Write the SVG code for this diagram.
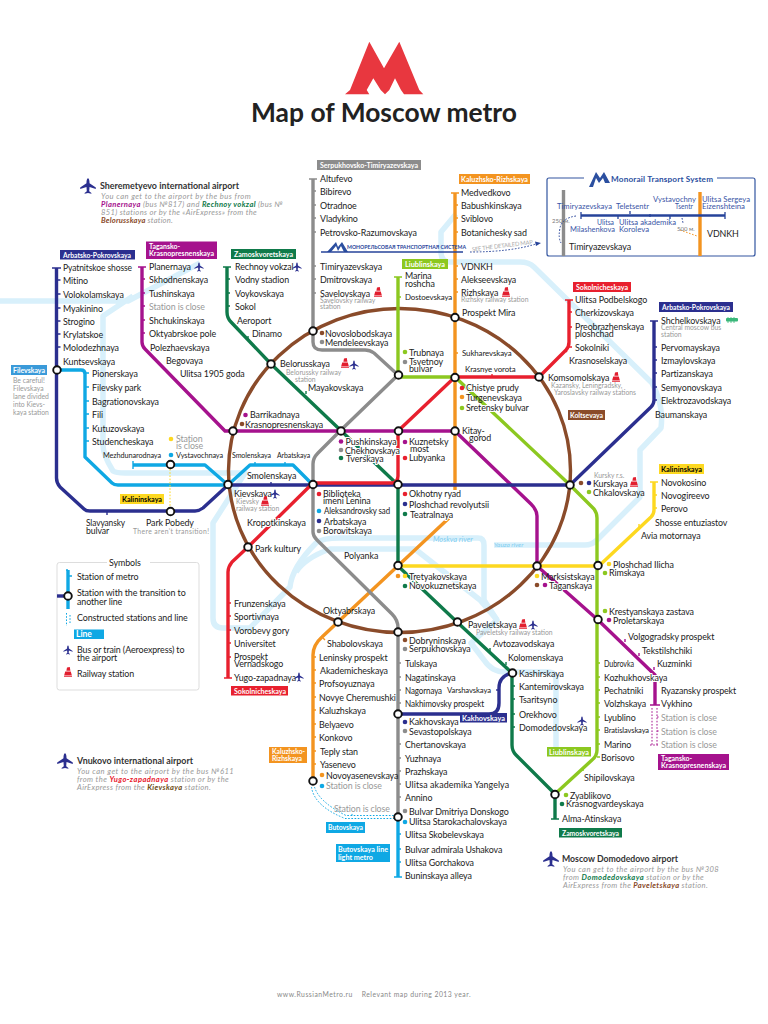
<svg xmlns="http://www.w3.org/2000/svg" width="768" height="1024" viewBox="0 0 768 1024">
<style>
text{font-family:"Lato","Noto Sans","Liberation Sans",sans-serif;dominant-baseline:central}
.s{font-size:8.9px;fill:#222;letter-spacing:-.1px}
.m{font-size:7.9px;fill:#222;letter-spacing:-.1px}
.h{paint-order:stroke;stroke:#fff;stroke-width:2.2px;stroke-linejoin:round}
.c{font-size:8.8px;fill:#999;letter-spacing:-.1px}
.r{font-size:6.8px;fill:#999}
.n{font-size:7.6px;fill:#999;font-style:italic;letter-spacing:.25px}
.a{font-size:9.4px;fill:#333;font-weight:700}
.t{font-size:8.4px;fill:#fff;font-weight:700}
.k{fill:#000}
.mb{font-size:8.4px;fill:#3a55a6}
.l{fill:none;stroke-width:3.4;stroke-linejoin:round}
.tk{fill:none;stroke-width:1.4}
.d{fill:none;stroke-width:1;stroke-dasharray:1.6 1.6}
.rv{fill:none;stroke:#d8f0fb;stroke-width:5.500;stroke-linejoin:round}
</style>
<defs>
<path id="plane" d="M0,-4.6C.7,-4.6.9,-3 .9,-1.6L4.6,.9V1.7L.9,.6.7,3.1 2,4.1V4.6L0,4.1-2,4.6V4.1L-.7,3.1-.9,.6-4.6,1.7V.9L-.9,-1.6C-.9,-3-.7,-4.6 0,-4.6Z" fill="#2b2f8f"/>
<path id="train" d="M-1,-4.4L1.8,-5 2.4,-1.2H-1.6ZM-3.8,3.2L-2.8,-.4H2.8L3.8,3.2ZM-4,3.8H4V4.8H-4Z" fill="#e21f2f"/>
<circle id="st" r="3.800" fill="#fff" stroke="#111" stroke-width="1.900"/>
</defs>
<g id="rivers">
<path class="rv" d="M0,301H128L200,263M133,296L103,316V445Q103,455 113,471Q116,473 125,473H245L213,523V618Q213,628 223,628H250L290,587Q292,567 316,543Q322,538 340,538H478Q484,538 484,545V600L497,620L471,643L484,660Q492,672 505,672H548Q556,672 556,680V750"/>
<path class="rv" d="M296,572Q305,558 330,549H415L480,600L497,620"/>
<path class="rv" d="M494,545H585Q592,545 597,540L640,497V450L661,428Q664,405 652,383L534,267Q529,262 520,262H450Q441,262 441,252V232L456,214"/>
</g>
<g id="connectors">
<ellipse id="line-koltsevaya" cx="399.5" cy="470.5" rx="171" ry="162" fill="none" stroke="#8a4b2a" stroke-width="3.4"/>
<path id="line-filevskaya" class="l" stroke="#0fa8e4" d="M57,370H81Q85,370 85,374V457L112,483Q114,485 118,485H228M133,465H205L228,485L250,465H293L313,485"/>
<path class="tk" stroke="#0fa8e4" d="M133,461v8M85,373h4M85,387h4M85,401h4M85,414h4M85,428h4M85,441h4M255,465v-3M285,465v-3"/>
<path id="line-lublinskaya" class="l" stroke="#8cc820" d="M398,277V375Q398,377 400,377H455L570,485L594,509Q597,513 597,518V750Q597,756 592,760L555,794"/>
<path class="tk" stroke="#8cc820" d="M394,277h8M398,297h3M597,663h3M597,677h3M597,690h3M597,703h3M597,717h3M597,730h3M597,744h3M597,757h3M583,768v3"/>
<path id="line-kaluzhsko" class="l" stroke="#f39420" d="M455,193V490M449,518L338,622L322,637Q313,645 313,655V781"/>
<path class="tk" stroke="#f39420" d="M451,193h8M455,205h3M455,218h3M455,232h3M455,266h3M455,279h3M455,292h3M455,353h3M313,657h3M313,670h3M313,683h3M313,697h3M313,710h3M313,724h3M313,737h3M313,751h3M313,764h3M323,638l2,2"/>
<path id="line-serpukhovskaya" class="l" stroke="#8c8c8c" d="M313,179V342Q313,350 322,350H365Q370,350 374,353L398,375L340,431L318,453Q313,458 313,464V532Q313,536 317,540L392,614Q398,620 398,628V817"/>
<path class="tk" stroke="#8c8c8c" d="M309,179h8M313,191h3M313,205h3M313,218h3M313,232h3M313,266h3M313,279h3M313,293h3M398,663h3M398,677h3M398,690h3M398,703h3M398,744h3M398,758h3M398,771h3M398,784h3M398,797h3M342,531v3"/>
<path id="line-butovskaya" class="l" stroke="#0fa8e4" d="M398,817V877"/>
<path class="tk" stroke="#0fa8e4" d="M394,877h8M398,834h3M398,849h3M398,862h3"/>
<path id="line-butovskaya-construct" class="d" stroke="#0fa8e4" d="M311.5,787Q314,806 345,818.5H396M314.5,787Q319,802 346,815.5H396M352,815.5v-3"/>
<path id="line-zamoskvoretskaya" class="l" stroke="#0f7a4a" d="M227,267V312Q227,318 231,322L271,364L398,485V566L457,622L512,673V745Q512,751 516,755L555,794V819"/>
<path class="tk" stroke="#0f7a4a" d="M223,267h8M227,279h3M227,293h3M227,306h3M248,339v-3M306,394v-3M551,819h8M512,686h3M512,699h3M512,714h3M512,727h3M490,651v-3M506,665v-3"/>
<path id="line-tagansko" class="l" stroke="#a5128d" d="M142,267V342Q142,346 145,349L225,431H450Q455,431 458,434L531,504Q537,510 537,516V566L598,620L655,675V705"/>
<path class="tk" stroke="#a5128d" d="M138,267h8M142,279h3M142,293h3M142,320h3M142,333h3M142,306h3M162,368v-3M176,382v-3M650,705h10M625,642v-3M639,656v-3M654,670v-3"/>
<path id="line-tagansko-construct" class="d" stroke="#a5128d" d="M652,708V745M657,708V745M657,717h3M657,731h3M650,745h9"/>
<path id="line-kalininskaya" class="l" stroke="#fdd820" d="M654,482V510Q654,514 651,517L601,564L598,566H398"/>
<path class="tk" stroke="#fdd820" d="M650,482h8M654,495h3M654,508h3M639,527v-3"/>
<path id="line-arbatsko" class="l" stroke="#2b2f8f" d="M56.5,268V478Q56.5,483 60,487L84,509Q86,511 90,511H195Q199,511 203,508L228,485H570L651,407Q654,404 654,400V321"/>
<path class="tk" stroke="#2b2f8f" d="M52,268h9M56.5,280h4M56.5,294h4M56.5,308h4M56.5,321h4M56.5,334h4M56.5,347h4M107,511v4M650,321h8M654,347h3M654,360h3M654,373h3M654,387h3M654,400h3M271,485v-3"/>
<path id="line-kakhovskaya" class="l" stroke="#2b2f8f" d="M398,714H489Q499,714 499,703V688Q499,676 512,673"/>
<path class="tk" stroke="#2b2f8f" d="M499,690h-3"/>
<path id="line-sokolnicheskaya" class="l" stroke="#e8202e" d="M569,300V342Q569,347 566,350L539,377H455L398,431V476Q398,483 391,483H313L248,547L232,562Q228,567 228,572V678"/>
<path class="tk" stroke="#e8202e" d="M565,300h8M569,312h3M569,327h3M569,347h3M565,350l2,2M224,678h8M228,603h3M228,616h3M228,630h3M228,643h3M228,657h3M492,377v-3"/>
<path id="dotted-kalininskaya" class="d" stroke="#fdd820" d="M170,469V507"/>
</g>
<g id="logo"><polygon fill="#e8373f" points="345,94.3 350,90 369.3,41.7 384,68.3 399.3,41.7 419.3,90 423.3,94.3 404,94.3 401,90 395,78.3 389.3,90 385,94.3 380.7,90 373.3,78.3 366.7,90 369.3,94.3"/></g>
<text id="title" x="251" y="111" font-size="27" font-weight="700" fill="#222" textLength="266" lengthAdjust="spacingAndGlyphs">Map of Moscow metro</text>
<g id="tags">
<g id="tag-serp"><rect x="317" y="160" width="104" height="10" fill="#8c8c8c"/><text class="t" x="320" y="165" textLength="98" lengthAdjust="spacingAndGlyphs">Serpukhovsko-Timiryazevskaya</text></g>
<g id="tag-kal"><rect x="459" y="174" width="71" height="10" fill="#f39420"/><text class="t" x="461" y="179" textLength="67" lengthAdjust="spacingAndGlyphs">Kaluzhsko-Rizhskaya</text></g>
<g id="tag-arb1"><rect x="60" y="250" width="75" height="9.5" fill="#2b2f8f"/><text class="t" x="63" y="254.8" textLength="68" lengthAdjust="spacingAndGlyphs">Arbatsko-Pokrovskaya</text></g>
<g id="tag-tag1"><rect x="146" y="241.500" width="71" height="17.500" fill="#a5128d"/><text class="t" x="149" y="246" textLength="31" lengthAdjust="spacingAndGlyphs">Tagansko-</text><text class="t" x="149" y="253" textLength="65" lengthAdjust="spacingAndGlyphs">Krasnopresnenskaya</text></g>
<g id="tag-zam1"><rect x="231" y="249" width="65" height="10" fill="#0f7a4a"/><text class="t" x="234" y="254" textLength="59" lengthAdjust="spacingAndGlyphs">Zamoskvoretskaya</text></g>
<g id="tag-lub1"><rect x="402" y="259" width="46" height="10" fill="#8cc820"/><text class="t" x="405" y="264" textLength="40" lengthAdjust="spacingAndGlyphs">Liublinskaya</text></g>
<g id="tag-sok1"><rect x="573" y="282" width="58" height="10" fill="#e8202e"/><text class="t" x="576" y="287" textLength="52" lengthAdjust="spacingAndGlyphs">Sokolnicheskaya</text></g>
<g id="tag-arb2"><rect x="659" y="302" width="74" height="10" fill="#2b2f8f"/><text class="t" x="662" y="307" textLength="68" lengthAdjust="spacingAndGlyphs">Arbatsko-Pokrovskaya</text></g>
<g id="tag-fil"><rect x="11" y="365" width="36" height="10" fill="#3a9ad9"/><text class="t" x="13" y="370" textLength="32" lengthAdjust="spacingAndGlyphs">Filevskaya</text></g>
<g id="tag-kolts"><rect x="568" y="410" width="37" height="10" fill="#8a4b2a"/><text class="t" x="570" y="415" textLength="33" lengthAdjust="spacingAndGlyphs">Koltsevaya</text></g>
<g id="tag-kali2"><rect x="659" y="464" width="45" height="10" fill="#fdd820"/><text class="t k" x="661" y="469" textLength="41" lengthAdjust="spacingAndGlyphs">Kalininskaya</text></g>
<g id="tag-kali1"><rect x="120" y="494" width="44" height="10" fill="#fdd820"/><text class="t k" x="122" y="499" textLength="40" lengthAdjust="spacingAndGlyphs">Kalininskaya</text></g>
<g id="tag-sok2"><rect x="231" y="686" width="57" height="9.500" fill="#e8202e"/><text class="t" x="234" y="690.500" textLength="52" lengthAdjust="spacingAndGlyphs">Sokolnicheskaya</text></g>
<g id="tag-kakh"><rect x="460" y="713" width="47" height="9.500" fill="#2b2f8f"/><text class="t" x="462" y="717.800" textLength="43" lengthAdjust="spacingAndGlyphs">Kakhovskaya</text></g>
<g id="tag-lub2"><rect x="547" y="747" width="44" height="9.500" fill="#8cc820"/><text class="t" x="549" y="751.500" textLength="40" lengthAdjust="spacingAndGlyphs">Liublinskaya</text></g>
<g id="tag-tag2"><rect x="658" y="754" width="71" height="16" fill="#a5128d"/><text class="t" x="661" y="758" textLength="31" lengthAdjust="spacingAndGlyphs">Tagansko-</text><text class="t" x="661" y="765" textLength="65" lengthAdjust="spacingAndGlyphs">Krasnopresnenskaya</text></g>
<g id="tag-kal2"><rect x="269" y="747" width="38" height="16" fill="#f39420"/><text class="t" x="272" y="751" textLength="33" lengthAdjust="spacingAndGlyphs">Kaluzhsko-</text><text class="t" x="272" y="758" textLength="30" lengthAdjust="spacingAndGlyphs">Rizhskaya</text></g>
<g id="tag-but"><rect x="326" y="822" width="39" height="11" fill="#0fa8e4"/><text class="t" x="328" y="827" textLength="35" lengthAdjust="spacingAndGlyphs">Butovskaya</text></g>
<g id="tag-butl"><rect x="336" y="844" width="54" height="18" fill="#0fa8e4"/><text class="t" x="338" y="849" textLength="50" lengthAdjust="spacingAndGlyphs">Butovskaya line</text><text class="t" x="338" y="856.500" textLength="35" lengthAdjust="spacingAndGlyphs">light metro</text></g>
<g id="tag-zam2"><rect x="559" y="828" width="63" height="9.500" fill="#0f7a4a"/><text class="t" x="562" y="832.500" textLength="57" lengthAdjust="spacingAndGlyphs">Zamoskvoretskaya</text></g>
</g>
<g id="labels-arbatsko">
<text class="s" x="63" y="267" textLength="69" lengthAdjust="spacingAndGlyphs">Pyatnitskoe shosse</text><text class="s" x="63" y="280">Mitino</text><text class="s" x="63" y="294">Volokolamskaya</text><text class="s" x="63" y="308">Myakinino</text><text class="s" x="63" y="321">Strogino</text><text class="s" x="63" y="334">Krylatskoe</text><text class="s" x="63" y="347">Molodezhnaya</text><text class="s" x="63" y="361">Kuntsevskaya</text>
<text class="s" x="86" y="522" textLength="39" lengthAdjust="spacingAndGlyphs">Slavyansky</text><text class="s" x="86" y="530" textLength="23" lengthAdjust="spacingAndGlyphs">bulvar</text><text class="s" x="146" y="522">Park Pobedy</text><text class="r" x="133" y="531" textLength="76" lengthAdjust="spacing">There aren't transition!</text>
<text class="s" x="661" y="320">Shchelkovskaya</text><text class="r" x="661" y="327">Central moscow bus</text><text class="r" x="661" y="334">station</text><text class="s" x="661" y="347">Pervomayskaya</text><text class="s" x="661" y="360">Izmaylovskaya</text><text class="s" x="661" y="373">Partizanskaya</text><text class="s" x="661" y="387">Semyonovskaya</text><text class="s" x="661" y="400">Elektrozavodskaya</text><text class="s" x="655" y="414">Baumanskaya</text>
</g>
<g id="labels-filevskaya">
<text class="r" x="13" y="380">Be careful!</text><text class="r" x="13" y="388">Filevskaya</text><text class="r" x="13" y="396">lane divided</text><text class="r" x="13" y="404">into Kievs-</text><text class="r" x="13" y="412">kaya station</text>
<text class="s" x="92" y="373">Pionerskaya</text><text class="s" x="92" y="387">Filevsky park</text><text class="s" x="92" y="401">Bagrationovskaya</text><text class="s" x="92" y="414">Fili</text><text class="s" x="92" y="428">Kutuzovskaya</text><text class="s" x="92" y="441">Studencheskaya</text>
<text class="c" x="176" y="438">Station</text><text class="c" x="176" y="445">is close</text><text class="m" x="103" y="455" textLength="58" lengthAdjust="spacingAndGlyphs">Mezhdunarodnaya</text><text class="m" x="176" y="455" textLength="47" lengthAdjust="spacingAndGlyphs">Vystavochnaya</text><text class="m" x="232" y="455" textLength="39" lengthAdjust="spacingAndGlyphs">Smolenskaya</text><text class="m" x="277" y="455" textLength="33" lengthAdjust="spacingAndGlyphs">Arbatskaya</text><text class="s" x="247" y="475">Smolenskaya</text>
</g>
<g id="labels-tagansko">
<text class="s" x="149" y="266">Planernaya</text><text class="s" x="149" y="279">Skhodnenskaya</text><text class="s" x="149" y="293">Tushinskaya</text><text class="c" x="149" y="306">Station is close</text><text class="s" x="149" y="320">Shchukinskaya</text><text class="s" x="149" y="333">Oktyabrskoe pole</text><text class="s" x="150" y="347">Polezhaevskaya</text><text class="s" x="166" y="360">Begovaya</text><text class="s" x="180" y="373">Ulitsa 1905 goda</text>
<text class="s" x="628" y="636">Volgogradsky prospekt</text><text class="s" x="642" y="650">Tekstilshchiki</text><text class="s" x="657" y="663">Kuzminki</text><text class="s" x="661" y="690">Ryazansky prospekt</text><text class="s" x="661" y="703">Vykhino</text><text class="c" x="661" y="717">Station is close</text><text class="c" x="661" y="731">Station is close</text><text class="c" x="661" y="744">Station is close</text>
</g>
<g id="labels-zamoskvoretskaya">
<text class="s" x="235" y="266">Rechnoy vokzal</text><text class="s" x="235" y="279">Vodny stadion</text><text class="s" x="235" y="293">Voykovskaya</text><text class="s" x="235" y="306">Sokol</text><text class="s" x="237" y="320">Aeroport</text><text class="s" x="252" y="333">Dinamo</text><text class="s" x="280" y="363">Belorusskaya</text><text class="r" x="286" y="372">Belorussky railway</text><text class="r" x="295" y="379">station</text><text class="s" x="308" y="387">Mayakovskaya</text>
<text class="s" x="493" y="643">Avtozavodskaya</text><text class="s" x="508" y="657">Kolomenskaya</text><text class="s" x="519" y="673">Kashirskaya</text><text class="s" x="519" y="686">Kantemirovskaya</text><text class="s" x="519" y="699">Tsaritsyno</text><text class="s" x="519" y="714">Orekhovo</text><text class="s" x="519" y="727">Domodedovskaya</text>
<text class="s" x="562" y="818">Alma-Atinskaya</text>
</g>
<g id="labels-serpukhovskaya">
<text class="s" x="320" y="178">Altufevo</text><text class="s" x="320" y="191">Bibirevo</text><text class="s" x="320" y="205">Otradnoe</text><text class="s" x="320" y="218">Vladykino</text><text class="s" x="320" y="232">Petrovsko-Razumovskaya</text><text class="s" x="320" y="266">Timiryazevskaya</text><text class="s" x="320" y="279">Dmitrovskaya</text><text class="s" x="320" y="293">Savelovskaya</text><text class="r" x="320" y="300">Savelovsky railway</text><text class="r" x="320" y="306">station</text>
<text class="s" x="344" y="555">Polyanka</text><text class="s" x="405" y="663">Tulskaya</text><text class="s" x="405" y="677">Nagatinskaya</text><text class="s" x="405" y="690" textLength="37" lengthAdjust="spacingAndGlyphs">Nagornaya</text><text class="m" x="447" y="690" textLength="44" lengthAdjust="spacingAndGlyphs">Varshavskaya</text><text class="s" x="405" y="703" textLength="79" lengthAdjust="spacingAndGlyphs">Nakhimovsky prospekt</text><text class="s" x="405" y="744">Chertanovskaya</text><text class="s" x="405" y="758">Yuzhnaya</text><text class="s" x="405" y="771">Prazhskaya</text><text class="s" x="405" y="784" textLength="104" lengthAdjust="spacing">Ulitsa akademika Yangelya</text><text class="s" x="405" y="797">Annino</text>
<text class="c" x="334" y="808">Station is close</text><text class="s" x="405" y="834">Ulitsa Skobelevskaya</text><text class="s" x="405" y="849">Bulvar admirala Ushakova</text><text class="s" x="405" y="862">Ulitsa Gorchakova</text><text class="s" x="405" y="875">Buninskaya alleya</text>
</g>
<g id="labels-kaluzhsko">
<text class="s" x="461" y="192">Medvedkovo</text><text class="s" x="461" y="205">Babushkinskaya</text><text class="s" x="461" y="218">Sviblovo</text><text class="s" x="461" y="232">Botanichesky sad</text><text class="s" x="461" y="266">VDNKH</text><text class="s" x="461" y="279">Alekseevskaya</text><text class="s" x="461" y="292">Rizhskaya</text><text class="r" x="461" y="299">Rizhsky railway station</text><text class="s" x="462" y="312">Prospekt Mira</text><text class="m" x="462" y="353">Sukharevskaya</text>
<text class="s" x="327" y="643">Shabolovskaya</text><text class="s" x="319" y="657">Leninsky prospekt</text><text class="s" x="320" y="670">Akademicheskaya</text><text class="s" x="319" y="683">Profsoyuznaya</text><text class="s" x="319" y="697">Novye Cheremushki</text><text class="s" x="319" y="710">Kaluzhskaya</text><text class="s" x="319" y="724">Belyaevo</text><text class="s" x="319" y="737">Konkovo</text><text class="s" x="320" y="751">Teply stan</text><text class="s" x="320" y="764">Yasenevo</text>
<text class="s" x="323" y="610">Oktyabrskaya</text><text class="s" x="326" y="775">Novoyasenevskaya</text><text class="c" x="326" y="785">Station is close</text>
</g>
<g id="labels-sokolnicheskaya">
<text class="s" x="575" y="299">Ulitsa Podbelskogo</text><text class="s" x="575" y="312">Cherkizovskaya</text><text class="s" x="575" y="326.500">Preobrazhenskaya</text><text class="s" x="575" y="333.500">ploshchad</text><text class="s" x="575" y="347">Sokolniki</text><text class="s" x="569" y="360">Krasnoselskaya</text><text class="s" x="548" y="377">Komsomolskaya</text><text class="r" x="551" y="385">Kazansky, Leningradsky,</text><text class="r" x="554" y="392">Yaroslavsky railway stations</text><text class="m" x="465" y="369">Krasnye vorota</text>
<text class="s h" x="247" y="522">Kropotkinskaya</text><text class="s" x="255" y="548">Park kultury</text><text class="s" x="234" y="603">Frunzenskaya</text><text class="s" x="234" y="616">Sportivnaya</text><text class="s" x="234" y="630">Vorobevy gory</text><text class="s" x="234" y="643">Universitet</text><text class="s" x="234" y="656">Prospekt</text><text class="s" x="234" y="663.500">Vernadskogo</text><text class="s" x="234" y="677">Yugo-zapadnaya</text>
</g>
<g id="labels-lublinskaya">
<text class="s" x="405" y="275.500">Marina</text><text class="s" x="405" y="283">roshcha</text><text class="m" x="405" y="297">Dostoevskaya</text><text class="s" x="604" y="663" textLength="30" lengthAdjust="spacingAndGlyphs">Dubrovka</text><text class="s h" x="604" y="677">Kozhukhovskaya</text><text class="s" x="604" y="690">Pechatniki</text><text class="s" x="604" y="703">Volzhskaya</text><text class="s" x="604" y="717">Lyublino</text><text class="m" x="604" y="730" textLength="45" lengthAdjust="spacingAndGlyphs">Bratislavskaya</text><text class="s" x="604" y="744">Marino</text><text class="s" x="601" y="757">Borisovo</text><text class="s" x="584" y="777">Shipilovskaya</text>
</g>
<g id="labels-kalininskaya">
<text class="s" x="661" y="482">Novokosino</text><text class="s" x="661" y="495">Novogireevo</text><text class="s" x="661" y="508">Perovo</text><text class="s" x="655" y="522">Shosse entuziastov</text><text class="s" x="641" y="535">Avia motornaya</text>
</g>
<g id="labels-center">
<text class="s" x="250" y="414">Barrikadnaya</text><text class="s" x="245" y="424">Krasnopresnenskaya</text>
<text class="s" x="325" y="333">Novoslobodskaya</text><text class="s" x="325" y="342">Mendeleevskaya</text>
<text class="s" x="409" y="352">Trubnaya</text><text class="s" x="409" y="361">Tsvetnoy</text><text class="s" x="409" y="368.500">bulvar</text>
<text class="s h" x="466" y="387">Chistye prudy</text><text class="s" x="466" y="397">Turgenevskaya</text><text class="s h" x="466" y="407">Sretensky bulvar</text>
<text class="s h" x="345.500" y="441">Pushkinskaya</text><text class="s h" x="345" y="450">Chekhovskaya</text><text class="s h" x="346" y="458">Tverskaya</text>
<text class="s" x="409" y="441">Kuznetsky</text><text class="s" x="410" y="448">most</text><text class="s" x="409" y="457">Lubyanka</text><text class="s" x="462" y="430">Kitay-</text><text class="s" x="469" y="437">gorod</text>
<text class="s" x="234" y="493">Kievskaya</text><text class="r" x="236" y="501">Kievsky</text><text class="r" x="236" y="508">railway station</text>
<text class="s" x="323" y="493">Biblioteka</text><text class="s" x="323" y="500.500">imeni Lenina</text><text class="s" x="324" y="510.500" textLength="66" lengthAdjust="spacingAndGlyphs">Aleksandrovsky sad</text><text class="s" x="324" y="521">Arbatskaya</text><text class="s" x="323" y="530.500">Borovitskaya</text>
<text class="s h" x="409" y="493">Okhotny ryad</text><text class="s" x="409" y="504">Ploshchad revolyutsii</text><text class="s h" x="410" y="514">Teatralnaya</text>
<text class="s h" x="409" y="576">Tretyakovskaya</text><text class="s h" x="409" y="585">Novokuznetskaya</text><text class="s" x="541" y="576">Marksistskaya</text><text class="s h" x="549" y="585">Taganskaya</text>
<text class="s" x="613" y="564">Ploshchad Ilicha</text><text class="s" x="609" y="572">Rimskaya</text><text class="s" x="609" y="611">Krestyanskaya zastava</text><text class="s" x="613" y="620">Proletarskaya</text>
<text class="r" x="594" y="475">Kursky r.s.</text><text class="s" x="593" y="483">Kurskaya</text><text class="s" x="593" y="492">Chkalovskaya</text>
<text class="s" x="468" y="624">Paveletskaya</text><text class="r" x="476" y="632">Paveletsky railway station</text>
<text class="s" x="409" y="640">Dobryninskaya</text><text class="s" x="409" y="648.500">Serpukhovskaya</text><text class="s" x="409" y="721">Kakhovskaya</text><text class="s" x="409" y="731">Sevastopolskaya</text><text class="s" x="409" y="811">Bulvar Dmitriya Donskogo</text><text class="s" x="409" y="821">Ulitsa Starokachalovskaya</text>
<text class="s" x="570" y="795">Zyablikovo</text><text class="s" x="566" y="803.500">Krasnogvardeyskaya</text>
<text x="433" y="539" style="font-size:7.500px;font-style:italic;fill:#7fcdf0">Moskva river</text><text x="494" y="544" style="font-size:6.500px;font-style:italic;fill:#7fcdf0">Yauza river</text>
</g>
<g id="dots">
<circle cx="245.500" cy="415" r="2.300" fill="#a5128d"/><circle cx="242" cy="424" r="2.300" fill="#8a4b2a"/><circle cx="322" cy="333" r="2.300" fill="#8a4b2a"/><circle cx="322" cy="342" r="2.300" fill="#8c8c8c"/><circle cx="405" cy="352" r="2.300" fill="#8cc820"/><circle cx="405" cy="362" r="2.300" fill="#8c8c8c"/><circle cx="462" cy="388" r="2.300" fill="#e8202e"/><circle cx="462" cy="397" r="2.300" fill="#f39420"/><circle cx="462" cy="408" r="2.300" fill="#8cc820"/><circle cx="341" cy="441.500" r="2.300" fill="#a5128d"/><circle cx="341" cy="450" r="2.300" fill="#8c8c8c"/><circle cx="341" cy="458" r="2.300" fill="#0f7a4a"/><circle cx="405" cy="442" r="2.300" fill="#a5128d"/><circle cx="405" cy="458" r="2.300" fill="#e8202e"/><circle cx="319" cy="494" r="2.300" fill="#e8202e"/><circle cx="319" cy="511" r="2.300" fill="#0fa8e4"/><circle cx="319" cy="521" r="2.300" fill="#2b2f8f"/><circle cx="319" cy="531" r="2.300" fill="#8c8c8c"/><circle cx="405" cy="494" r="2.300" fill="#e8202e"/><circle cx="405" cy="504" r="2.300" fill="#2b2f8f"/><circle cx="405" cy="514" r="2.300" fill="#0f7a4a"/><circle cx="398" cy="576" r="2.300" fill="#f39420"/><circle cx="405" cy="576" r="2.300" fill="#fdd820"/><circle cx="405" cy="586" r="2.300" fill="#0f7a4a"/><circle cx="537" cy="576" r="2.300" fill="#fdd820"/><circle cx="537" cy="585" r="2.300" fill="#8a4b2a"/><circle cx="545" cy="585" r="2.300" fill="#a5128d"/><circle cx="609" cy="564" r="2.300" fill="#fdd820"/><circle cx="605" cy="573" r="2.300" fill="#8cc820"/><circle cx="605" cy="611" r="2.300" fill="#8cc820"/><circle cx="609" cy="620" r="2.300" fill="#a5128d"/><circle cx="581" cy="483" r="2.300" fill="#8a4b2a"/><circle cx="589" cy="483" r="2.300" fill="#2b2f8f"/><circle cx="589" cy="492" r="2.300" fill="#8cc820"/><circle cx="405" cy="640" r="2.300" fill="#8a4b2a"/><circle cx="405" cy="649" r="2.300" fill="#8c8c8c"/><circle cx="405" cy="722" r="2.300" fill="#2b2f8f"/><circle cx="405" cy="731" r="2.300" fill="#8c8c8c"/><circle cx="405" cy="811" r="2.300" fill="#8c8c8c"/><circle cx="405" cy="822" r="2.300" fill="#0fa8e4"/><circle cx="322" cy="775" r="2.300" fill="#f39420"/><circle cx="322" cy="786" r="2.300" fill="#0fa8e4"/><circle cx="566" cy="795" r="2.300" fill="#8cc820"/><circle cx="562" cy="804" r="2.300" fill="#0f7a4a"/><circle cx="171" cy="439" r="2.300" fill="#fdd820"/><circle cx="171" cy="455" r="2.300" fill="#0fa8e4"/>
</g>
<g id="stations">
<g id="n-kuntsevskaya"><use href="#st" x="57" y="370"/></g><g id="n-vystavochnaya"><use href="#st" x="170.500" y="464.500"/></g><g id="n-park-pobedy"><use href="#st" x="170.500" y="511.500"/></g><g id="n-kievskaya"><use href="#st" x="228" y="484.500"/></g><g id="n-biblioteka"><use href="#st" x="313" y="484.500"/></g><g id="n-okhotny"><use href="#st" x="398" y="484.500"/></g><g id="n-kurskaya"><use href="#st" x="570" y="485"/></g><g id="n-park-kultury"><use href="#st" x="248" y="547"/></g><g id="n-krasnopresnenskaya"><use href="#st" x="233" y="431"/></g><g id="n-belorusskaya"><use href="#st" x="271" y="364"/></g><g id="n-novoslobodskaya"><use href="#st" x="313" y="331"/></g><g id="n-tsvetnoy"><use href="#st" x="398.500" y="375"/></g><g id="n-prospekt-mira"><use href="#st" x="455" y="317.500"/></g><g id="n-komsomolskaya"><use href="#st" x="539" y="377"/></g><g id="n-krasnye"><use href="#st" x="455" y="377.500"/></g><g id="n-pushkinskaya"><use href="#st" x="341" y="431"/></g><g id="n-kuznetsky"><use href="#st" x="398.500" y="431"/></g><g id="n-kitay"><use href="#st" x="455" y="431"/></g><g id="n-tretyakovskaya"><use href="#st" x="398" y="565.500"/></g><g id="n-taganskaya"><use href="#st" x="537" y="566"/></g><g id="n-ilicha"><use href="#st" x="598" y="565.500"/></g><g id="n-proletarskaya"><use href="#st" x="598" y="619.500"/></g><g id="n-paveletskaya"><use href="#st" x="457.500" y="622"/></g><g id="n-oktyabrskaya"><use href="#st" x="338" y="622"/></g><g id="n-dobryninskaya"><use href="#st" x="398" y="632"/></g><g id="n-kashirskaya"><use href="#st" x="512.500" y="673"/></g><g id="n-kakhovskaya"><use href="#st" x="398" y="714"/></g><g id="n-donskogo"><use href="#st" x="398" y="817"/></g><g id="n-novoyasenevskaya"><use href="#st" x="313" y="781"/></g><g id="n-zyablikovo"><use href="#st" x="555" y="794.500"/></g>
</g>
<g id="icons">
<use href="#plane" x="199" y="267"/><use href="#plane" x="297" y="267"/><use href="#plane" x="354" y="365"/><use href="#plane" x="275" y="494"/><use href="#plane" x="299" y="677"/><use href="#plane" x="533" y="625"/><use href="#plane" x="582" y="721"/>
<use href="#train" x="345" y="363"/><use href="#train" x="378" y="292"/><use href="#train" x="506" y="292"/><use href="#train" x="616" y="377"/><use href="#train" x="634" y="482"/><use href="#train" x="265" y="501"/><use href="#train" x="523" y="624"/>
<g id="bus"><rect x="726" y="318" width="12" height="3.500" rx="1" fill="#3ab77a"/><path d="M728,317v6M731,317v6M734,317v6" stroke="#3ab77a" stroke-width=".8"/></g>
</g>
<g id="airports">
<g id="airport-sheremetyevo"><use href="#plane" transform="translate(88,186) scale(1.700)"/><text class="a" x="100" y="185" textLength="139" lengthAdjust="spacingAndGlyphs">Sheremetyevo international airport</text>
<text class="n" x="101" y="196" textLength="150" lengthAdjust="spacing">You can get to the airport by the bus from</text>
<text class="n" x="101" y="204" textLength="182" lengthAdjust="spacing"><tspan font-weight="700" fill="#a5128d">Planernaya</tspan> (bus №817) and <tspan font-weight="700" fill="#0f7a4a">Rechnoy vokzal</tspan> (bus №</text>
<text class="n" x="101" y="212" textLength="156" lengthAdjust="spacing">851) stations or by the «AirExpress» from the</text>
<text class="n" x="101" y="220" textLength="72" lengthAdjust="spacing"><tspan font-weight="700" fill="#8a4b2a">Belorusskaya</tspan> station.</text></g>
<g id="airport-vnukovo"><use href="#plane" transform="translate(65,761) scale(1.700)"/><text class="a" x="77" y="760" textLength="116" lengthAdjust="spacingAndGlyphs">Vnukovo international airport</text>
<text class="n" x="77" y="771" textLength="157" lengthAdjust="spacing">You can get to the airport by the bus №611</text>
<text class="n" x="77" y="779" textLength="152" lengthAdjust="spacing">from the <tspan font-weight="700" fill="#e8202e">Yugo-zapadnaya</tspan> station or by the</text>
<text class="n" x="77" y="787" textLength="134" lengthAdjust="spacing">AirExpress from the <tspan font-weight="700" fill="#6b4a12">Kievskaya</tspan> station.</text></g>
<g id="airport-domodedovo"><use href="#plane" transform="translate(551,859) scale(1.700)"/><text class="a" x="562" y="858" textLength="116" lengthAdjust="spacingAndGlyphs">Moscow Domodedovo airport</text>
<text class="n" x="563" y="869" textLength="156" lengthAdjust="spacing">You can get to the airport by the bus №308</text>
<text class="n" x="563" y="877" textLength="141" lengthAdjust="spacing">from <tspan font-weight="700" fill="#0f7a4a">Domodedovskaya</tspan> station or by the</text>
<text class="n" x="563" y="885" textLength="145" lengthAdjust="spacing">AirExpress from the <tspan font-weight="700" fill="#8a4b2a">Paveletskaya</tspan> station.</text></g>
</g>
<g id="legend">
<rect x="57" y="562.500" width="142" height="127.500" rx="2.500" fill="#fff" stroke="#ddd" stroke-width="1"/>
<rect x="107" y="558" width="43" height="9" fill="#fff"/><text class="s" x="109" y="562.500">Symbols</text>
<path class="l" stroke="#0fa8e4" d="M68,570V609"/><path class="l" stroke="#2b2f8f" d="M57,596H68"/><path class="tk" stroke="#0fa8e4" d="M68,576h4M66,570h2"/>
<use href="#st" x="68" y="596"/>
<path class="d" stroke="#0fa8e4" d="M66.500,613V626M70,615V623"/>
<text class="s" x="77" y="576">Station of metro</text><text class="s" x="77" y="592">Station with the transition to</text><text class="s" x="77" y="601">another line</text><text class="s" x="77" y="617">Constructed stations and line</text>
<rect x="74" y="629.500" width="30" height="9.500" fill="#0fa8e4"/><text class="t" x="76" y="633.500" style="font-size:8.500px">Line</text>
<use href="#plane" x="68" y="650"/><text class="s" x="77" y="649">Bus or train (Aeroexpress) to</text><text class="s" x="77" y="657">the airport</text><use href="#train" x="68" y="672"/><text class="s" x="77" y="673">Railway station</text>
</g>
<g id="monorail">
<path fill="none" stroke="#3355a0" stroke-width="1.200" d="M584,178H549Q547,178 547,180V254Q547,256 549,256H753Q755,256 755,254V180Q755,178 753,178H717"/>
<path fill="#2b4fa0" d="M589,187L596,172 600,178 604,172 610,183 H605L603,178 599,183 596,178 593,187Z"/>
<text x="611" y="179" style="font-size:8.200px;font-weight:700;fill:#2b4fa0" textLength="102" lengthAdjust="spacing">Monorail Transport System</text>
<path stroke="#8c8c8c" stroke-width="3.400" d="M563.500,190V256"/><path stroke="#f39420" stroke-width="3.400" d="M700,192V256"/>
<path stroke="#26439a" stroke-width="2.400" d="M581,215.500H725"/><path stroke="#26439a" stroke-width="1.300" d="M581,212v7M725,212v7M630,214v-3M650,214v3M618,216v3M670,216v3"/>
<path class="d" stroke="#26439a" d="M576,216Q562,218 560,228Q558,238 561,243M682,218l1,5"/>
<path class="d" stroke="#f39420" d="M680,230L697,236"/>
<text class="mb" x="557" y="206" textLength="55" lengthAdjust="spacingAndGlyphs">Timiryazevskaya</text><text class="mb" x="616" y="206" textLength="33" lengthAdjust="spacingAndGlyphs">Teletsentr</text><text class="mb" x="653" y="199" textLength="43" lengthAdjust="spacingAndGlyphs">Vystavochny</text><text class="mb" x="675" y="206" textLength="18" lengthAdjust="spacingAndGlyphs">Tsentr</text><text class="mb" x="702" y="199" textLength="48" lengthAdjust="spacingAndGlyphs">Ulitsa Sergeya</text><text class="mb" x="702" y="206" textLength="43" lengthAdjust="spacingAndGlyphs">Eizenshteina</text>
<text class="mb" x="597" y="222" textLength="17" lengthAdjust="spacingAndGlyphs">Ulitsa</text><text class="mb" x="570" y="229" textLength="45" lengthAdjust="spacingAndGlyphs">Milashenkova</text><text class="mb" x="619" y="222" textLength="57" lengthAdjust="spacingAndGlyphs">Ulitsa akademika</text><text class="mb" x="619" y="229" textLength="30" lengthAdjust="spacingAndGlyphs">Koroleva</text>
<text class="r" x="552" y="220" style="font-size:6px;fill:#777">250 м.</text><text class="r" x="677" y="228" style="font-size:6px;fill:#777">500 м.</text>
<text class="s" x="707" y="233">VDNKH</text><text class="s" x="569" y="246">Timiryazevskaya</text>
</g>
<g id="monorail-banner">
<path fill="#2b4fa0" d="M327,252L336,242 338,247 342,242 348,252H344L341,246 338,251 336,246 331,252Z"/>
<path stroke="#26439a" stroke-width="1.400" d="M321,252H463"/>
<text x="347" y="247" style="font-size:5.200px;font-weight:700;fill:#26439a" textLength="119" lengthAdjust="spacing">МОНОРЕЛЬСОВАЯ ТРАНСПОРТНАЯ СИСТЕМА</text>
<text class="r" transform="translate(472,249) rotate(-7)" style="font-size:5.800px;fill:#aaa" textLength="61" lengthAdjust="spacing">SEE THE DETAILED MAP</text>
<path class="d" stroke="#26439a" d="M470,252Q510,252 536,244"/><path fill="#26439a" d="M541,243L535,241.500 536,246Z"/>
</g>
<text id="footer" x="277" y="994" style="font-size:6.800px;fill:#888;letter-spacing:.5px">www.RussianMetro.ru<tspan dx="9">Relevant map during 2013 year.</tspan></text>
</svg>
